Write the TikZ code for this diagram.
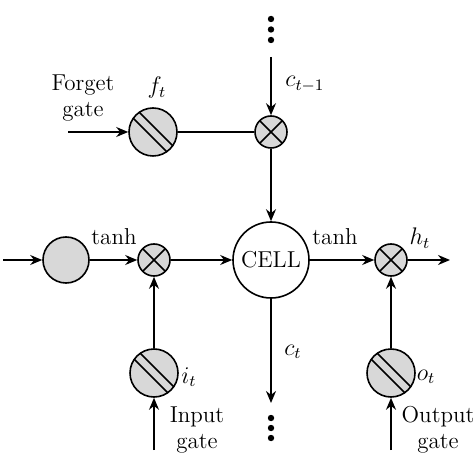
\documentclass[tikz,border=0pt]{standalone}
\usepackage{amsmath}
\usetikzlibrary{arrows.meta,calc}
\definecolor{gatefill}{RGB}{216,216,216}

\begin{document}
\begin{tikzpicture}[x=0.5pt,y=-0.5pt,line width=0.8pt,
  font=\fontsize{11.5}{13}\selectfont,
  >={Stealth[length=6pt,width=5pt]},
  gate/.style={circle,draw,fill=gatefill,inner sep=0pt,minimum size=24pt,
    path picture={
      \draw ($(path picture bounding box.center)+(-38,-32)$) -- ($(path picture bounding box.center)+(32,38)$);
      \draw ($(path picture bounding box.center)+(-32,-38)$) -- ($(path picture bounding box.center)+(38,32)$);}},
  mult/.style={circle,draw,fill=gatefill,inner sep=0pt,minimum size=16pt,
    path picture={
      \draw (path picture bounding box.north west) -- (path picture bounding box.south east);
      \draw (path picture bounding box.north east) -- (path picture bounding box.south west);}},
  squash/.style={circle,draw,fill=gatefill,inner sep=0pt,minimum size=23pt},
  cellbox/.style={circle,draw,fill=white,inner sep=0pt,minimum size=38pt},
  dot/.style={circle,fill=black,inner sep=0pt,minimum size=3.2pt}]
  \useasboundingbox (0,0) rectangle (474,474);

  % Forget gate
  \node[gate] (fg) at (153,132) {};
  \node[align=center] (fglab) at (83,98) {Forget\\gate};
  \node (ft) at (157,88) {$f_t$};
  \coordinate (fgin) at (68,132);
  \draw[->] (fgin) -- (fg);

  % Previous cell state
  \node[dot] (ud1) at (271,19) {};
  \node[dot] (ud2) at (271,29.5) {};
  \node[dot] (ud3) at (271,40) {};
  \coordinate (cprev) at (271,57);
  \node[mult] (xf) at (271,132) {};
  \node[anchor=west] (ctm) at (278,84) {$c_{t-1}$};
  \draw[->] (cprev) -- (xf);
  \draw (fg) -- (xf);

  % Cell
  \node[cellbox] (cell) at (271,260) {CELL};
  \draw[->] (xf) -- (cell);

  % Input branch
  \coordinate (xin) at (3,260);
  \node[squash] (tc) at (66,260) {};
  \node (tanhin) at (114,237) {tanh};
  \node[mult] (xi) at (154,260) {};
  \draw[->] (xin) -- (tc);
  \draw[->] (tc) -- (xi);
  \draw[->] (xi) -- (cell);

  % Input gate
  \node[gate] (ig) at (154,373) {};
  \node (it) at (189,377) {$i_t$};
  \node[align=center] (iglab) at (197,430) {Input\\gate};
  \coordinate (igin) at (154,450);
  \draw[->] (igin) -- (ig);
  \draw[->] (ig) -- (xi);

  % Output branch
  \node (tanhout) at (335,237) {tanh};
  \node[mult] (xo) at (391,260) {};
  \node (ht) at (420,238) {$h_t$};
  \coordinate (hout) at (450,260);
  \draw[->] (cell) -- (xo);
  \draw[->] (xo) -- (hout);

  % Output gate
  \node[gate] (og) at (391,373) {};
  \node (ot) at (426,377) {$o_t$};
  \node[align=center] (oglab) at (438,430) {Output\\gate};
  \coordinate (ogin) at (391,450);
  \draw[->] (ogin) -- (og);
  \draw[->] (og) -- (xo);

  % Next cell state
  \coordinate (cout) at (271,403);
  \node (ct) at (293,352) {$c_t$};
  \draw[->] (cell) -- (cout);
  \node[dot] (dd1) at (271,418) {};
  \node[dot] (dd2) at (271,428) {};
  \node[dot] (dd3) at (271,438) {};
\end{tikzpicture}
\end{document}
